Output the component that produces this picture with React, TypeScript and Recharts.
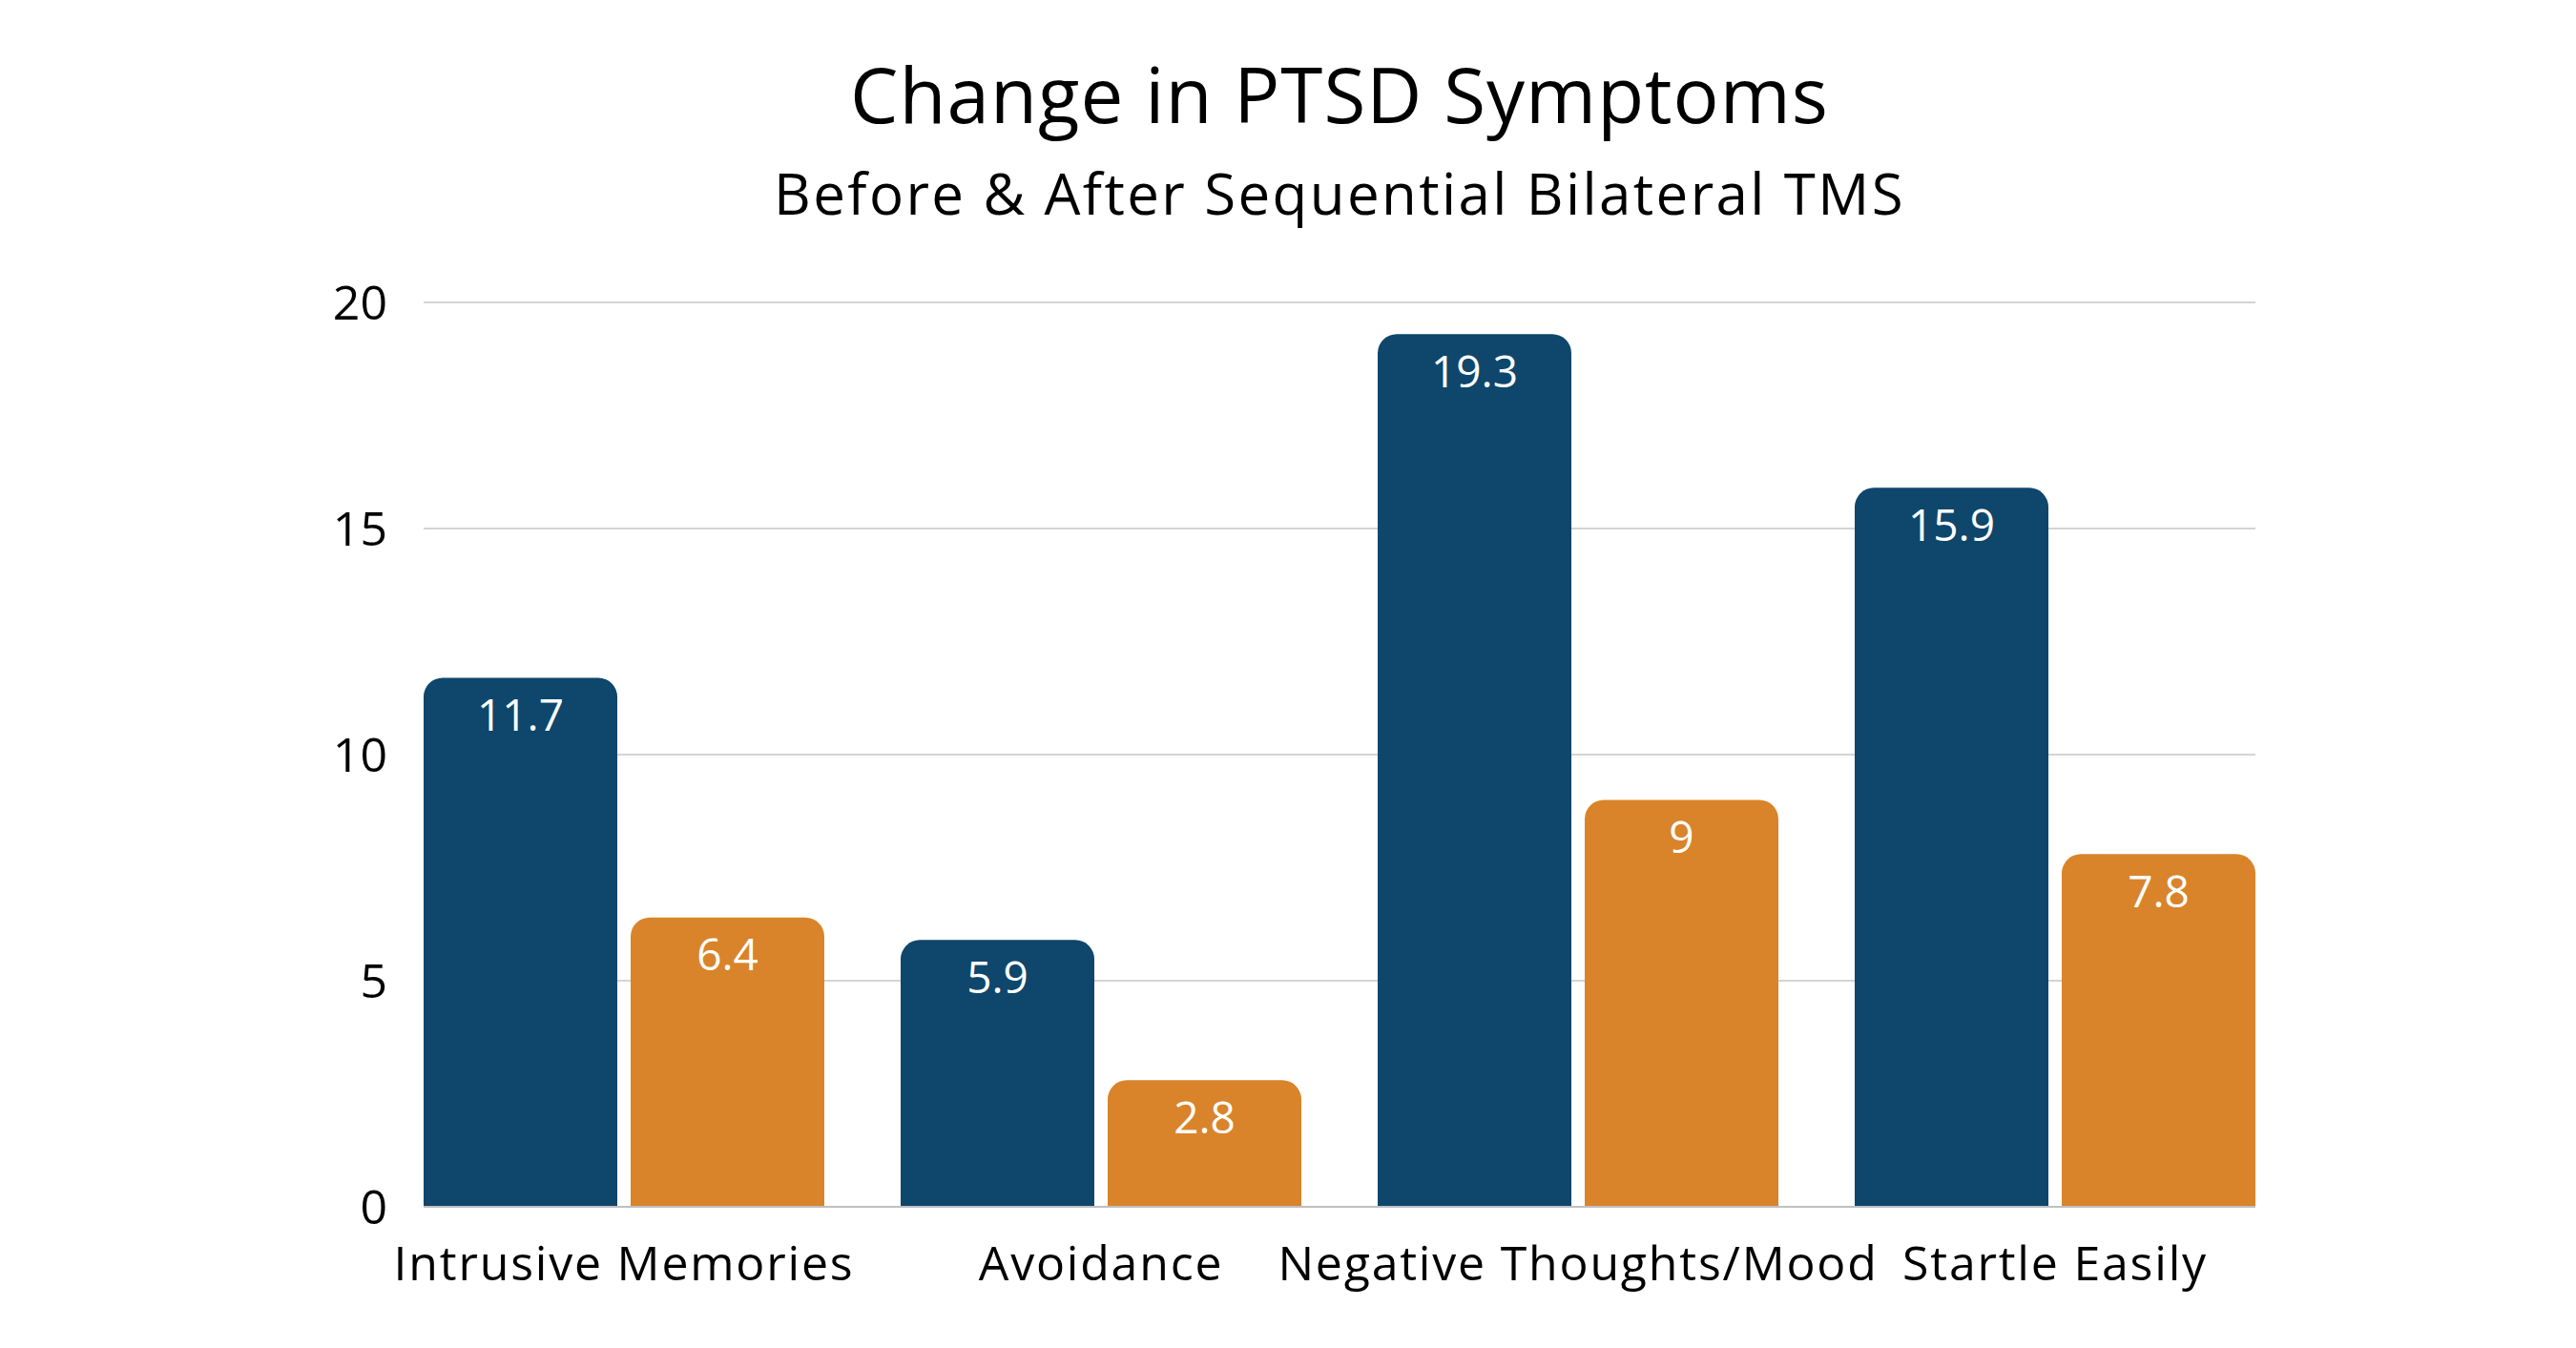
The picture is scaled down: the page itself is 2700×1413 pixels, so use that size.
import { BarChart, Bar, XAxis, YAxis, CartesianGrid, LabelList } from 'recharts';

const categories = ['Intrusive Memories', 'Avoidance', 'Negative Thoughts/Mood', 'Startle Easily'];
const beforeValues = [11.7, 5.9, 19.3, 15.9];
const afterValues = [6.4, 2.8, 9, 7.8];
const yTicks = [0, 5, 10, 15, 20];

const data = categories.map((name, i) => ({
    name,
    before: beforeValues[i],
    after: afterValues[i],
}));

const FONT = '"Open Sans", sans-serif';
const BLUE = '#0f466b';
const ORANGE = '#d9842a';

export default function App() {
    return (
        <div style={{ position: 'absolute', left: 0, top: 0, width: 2700, height: 1413, background: '#fff', fontFamily: FONT }}>
            {/* titles are centred over the plot area, not the page */}
            <div style={{ position: 'absolute', left: 444, width: 1920, top: 52, textAlign: 'center', fontSize: 80, letterSpacing: 1, lineHeight: '92px', color: '#000' }}>
                Change in PTSD Symptoms
            </div>
            <div style={{ position: 'absolute', left: 444, width: 1920, top: 166, textAlign: 'center', fontSize: 60, letterSpacing: 2.4, lineHeight: '72px', color: '#000' }}>
                Before &amp; After Sequential Bilateral TMS
            </div>
            <div style={{ position: 'absolute', left: 0, top: 0 }}>
                <BarChart
                    width={2700}
                    height={1413}
                    data={data}
                    margin={{ top: 317, right: 336, left: 344, bottom: 48 }}
                    barCategoryGap={40}
                    barGap={14}
                >
                    <CartesianGrid vertical={false} stroke="#d4d4d4" strokeWidth={2} />
                    <XAxis
                        dataKey="name"
                        padding={{ left: -40, right: -40 }}
                        axisLine={{ stroke: '#bfbfbf', strokeWidth: 2 }}
                        tickLine={false}
                        tickSize={0}
                        tickMargin={41}
                        height={100}
                        interval={0}
                        tick={{ fill: '#000', fontSize: 50, fontFamily: FONT, letterSpacing: 1.8 }}
                    />
                    <YAxis
                        domain={[0, 20]}
                        ticks={yTicks}
                        width={100}
                        axisLine={false}
                        tickLine={false}
                        tickSize={0}
                        tickMargin={38}
                        tick={{ fill: '#000', fontSize: 50, fontFamily: FONT }}
                    />
                    <Bar dataKey="before" fill={BLUE} radius={[20, 20, 0, 0]} isAnimationActive={false}>
                        <LabelList dataKey="before" position="insideTop" offset={23} fill="#fff" fontSize={46} fontFamily={FONT} />
                    </Bar>
                    <Bar dataKey="after" fill={ORANGE} radius={[20, 20, 0, 0]} isAnimationActive={false}>
                        <LabelList dataKey="after" position="insideTop" offset={23} fill="#fff" fontSize={46} fontFamily={FONT} />
                    </Bar>
                </BarChart>
            </div>
        </div>
    );
}
